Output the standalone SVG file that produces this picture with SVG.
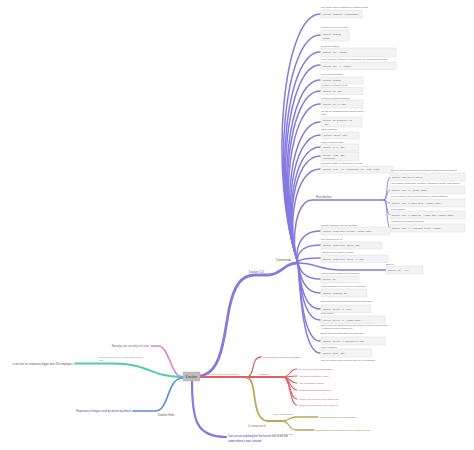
<svg xmlns="http://www.w3.org/2000/svg" width="474" height="450" viewBox="0 0 474 450">
<style>
.lbl{font-family:"Liberation Sans",Arial,sans-serif;font-size:2.5px;fill:#666}
.code{font-family:"Liberation Mono","Courier New",monospace;font-size:2.3px;fill:#555}
.box{fill:#f3f3f3;stroke:#d4d4d4;stroke-width:0.4}
.mid{font-family:"Liberation Sans",Arial,sans-serif;font-size:3px}
.leaf{font-family:"Liberation Sans",Arial,sans-serif;font-size:2.8px}
.red{font-family:"Liberation Sans",Arial,sans-serif;font-size:2.4px;fill:#d0524f}
.olv{font-family:"Liberation Sans",Arial,sans-serif;font-size:2.4px;fill:#8c7a34}
.p{fill:none;stroke:#857ae0;stroke-linecap:round}
.pc{fill:none;stroke:#857ae0;stroke-width:1.5;stroke-linecap:round}
.pr{fill:none;stroke:#857ae0;stroke-width:0.9;stroke-linecap:round}
.r{fill:none;stroke:#e06060;stroke-linecap:round}
.o{fill:none;stroke:#bba55a;stroke-linecap:round}
</style>
<rect width="474" height="450" fill="#fff"/>
<g id="connectors">
  <path d="M183 377 C170 377 170 346 158 346 L151 346" style="fill:none;stroke:#d98ad9;stroke-width:1.7;stroke-linecap:round"/>
  <path d="M75 363.5 L112 363.5 C150 363.5 150 377 183 377" style="fill:none;stroke:#4fcfa2;stroke-width:2;stroke-linecap:round"/>
  <path d="M183 378 C166 378 170 411 155 411 L133 411" style="fill:none;stroke:#5b8fd9;stroke-width:1.7;stroke-linecap:round"/>
  <path class="p" stroke-width="2.8" d="M199 376 C224 374 224 330 230 305 C234 288 240 275 255 275 L268 275 C282 275 283 263 298 263"/>
  <path class="p" stroke-width="2.2" d="M192 381 C192 420 196 437 226 437"/>
  <path class="pc" d="M298 263 C268.1 175.8 282.6 14 320 14"/>
  <path class="pc" d="M298 263 C270.6 183.2 284 35 320 35"/>
  <path class="pc" d="M298 263 C272.7 189.2 285.2 52 320 52"/>
  <path class="pc" d="M298 263 C274.2 193.7 286.1 65 320 65"/>
  <path class="pc" d="M298 263 C276 199 287.2 80 320 80"/>
  <path class="pc" d="M298 263 C277.4 202.8 288 91 320 91"/>
  <path class="pc" d="M298 263 C278.9 207.4 288.9 104 320 104"/>
  <path class="pc" d="M298 263 C281.1 213.7 290.1 122 320 122"/>
  <path class="pc" d="M298 263 C282.6 218.2 291 135 320 135"/>
  <path class="pc" d="M298 263 C284.1 222.4 291.9 147 320 147"/>
  <path class="pc" d="M298 263 C285.2 225.6 292.5 156 320 156"/>
  <path class="pc" d="M298 263 C286.7 230.1 293.4 169 320 169"/>
  <path class="pc" d="M298 263 C290.4 241 295.6 200 312 200 L384 200"/>
  <path class="pc" d="M298 263 C295.1 251.8 298.1 231 320 231"/>
  <path class="pc" d="M298 263 C296.4 256.7 298.9 245 320 245"/>
  <path class="pc" d="M298 263 C297.6 261.3 299.7 258 320 258"/>
  <path class="pc" d="M298 263 C315 263 320 270 340 270 L386 270"/>
  <path class="pc" d="M298 263 C300 268.6 302.3 279 320 279"/>
  <path class="pc" d="M298 263 C300 273.5 302.6 293 320 293"/>
  <path class="pc" d="M298 263 C300 279.1 302.9 309 320 309"/>
  <path class="pc" d="M298 263 C300 283 303.1 320 320 320"/>
  <path class="pc" d="M298 263 C300 290.3 303.6 341 320 341"/>
  <path class="pc" d="M298 263 C300 294.5 303.8 353 320 353"/>
  <path class="pr" d="M384 200 C388 200 386 177 390 177"/>
  <path class="pr" d="M384 200 C388 200 386 190 390 190"/>
  <path class="pr" d="M384 200 C388 200 386 203 390 203"/>
  <path class="pr" d="M384 200 C388 200 386 215 390 215"/>
  <path class="pr" d="M384 200 C388 200 386 228 390 228"/>
  <path class="r" stroke-width="2" d="M200 377 L283 377"/>
  <path class="r" stroke-width="1.3" d="M246 377 C256 377 250 357 261 357"/>
  <path class="r" stroke-width="1.1" d="M283 377 C291 377 289 369 297 369"/>
  <path class="r" stroke-width="1.1" d="M283 377 C291 377 289 376 297 376"/>
  <path class="r" stroke-width="1.1" d="M283 377 C291 377 289 383 297 383"/>
  <path class="r" stroke-width="1.1" d="M283 377 C291 377 289 390 297 390"/>
  <path class="r" stroke-width="1.1" d="M283 377 C291 377 289 399 297 399"/>
  <path class="r" stroke-width="1.1" d="M283 377 C291 377 289 405 297 405"/>
  <path class="o" stroke-width="1.8" d="M247 378 C258 378 250 421 268 421 L282 421"/>
  <path class="o" stroke-width="1.3" d="M282 421 C290 421 288 417 296 417 L318 417"/>
  <path class="o" stroke-width="1.3" d="M282 421 C290 421 288 430 296 430 L314 430"/>
</g>

<g id="docker">
  <rect x="183" y="372" width="17" height="9" fill="#bdbdbd" stroke="#a8a8a8" stroke-width="0.4"/>
  <text x="191.5" y="377.8" text-anchor="middle" style="font-family:'Liberation Sans',Arial,sans-serif;font-size:3.6px;fill:#333">Docker</text>
</g>
<g id="natively"><text class="leaf" x="149" y="347" text-anchor="end" fill="#8a4a8a">Natively can run only on Linux</text></g>
<g id="desktop">
  <text x="99" y="358" style="font-family:'Liberation Sans',Arial,sans-serif;font-size:1.7px;fill:#777">Docker Desktop is not a free tool (since licensing change in</text>
  <text x="99" y="361" style="font-family:'Liberation Sans',Arial,sans-serif;font-size:1.7px;fill:#777">2021)</text>
</g>
<g id="notfree"><text class="leaf" x="73" y="364.5" text-anchor="end" fill="#6b4b4b" style="font-size:2.6px">is not free for companies bigger than 250 employees</text></g>
<g id="hub">
  <text class="leaf" x="131" y="412" text-anchor="end" fill="#3d4f8f" style="font-size:2.6px">Repository of images used by docker by default</text>
  <text class="mid" x="158" y="415.5" fill="#555">Docker Hub</text>
</g>
<g id="anything">
  <text class="leaf" x="228" y="437" fill="#3f3a99">Can run on anything but the kernel has to be the</text>
  <text class="leaf" x="228" y="441.5" fill="#3f3a99">same where it was created</text>
</g>
<g id="cli"><text class="mid" x="249" y="272.5" fill="#555">Docker CLI</text></g>
<g id="commands"><text class="mid" x="276" y="261" fill="#555">Commands</text></g>

<g id="c1"><text class="lbl" x="321" y="8">See detail about container in JSON format</text><rect class="box" x="321" y="10" width="41" height="8"/><text class="code" x="323" y="14.8">docker inspect &lt;imagename&gt;</text></g>
<g id="c2"><text class="lbl" x="321" y="28">Remove all unused files</text><rect class="box" x="321" y="30" width="28" height="11"/><text class="code" x="323" y="34.5">docker system</text><text class="code" x="323" y="38.5">prune</text></g>
<g id="c3"><text class="lbl" x="321" y="47">Remove images</text><rect class="box" x="321" y="48" width="75" height="9"/><text class="code" x="323" y="53.3">docker rmi &lt;image&gt;</text></g>
<g id="c4"><text class="lbl" x="321" y="60">Force remove images for which there are running containers</text><rect class="box" x="321" y="62" width="75" height="7.5"/><text class="code" x="323" y="66.5">docker rmi -f &lt;image&gt;</text></g>
<g id="c5"><text class="lbl" x="321" y="75">List existing images</text><rect class="box" x="321" y="77" width="42" height="7"/><text class="code" x="323" y="81.3">docker images</text></g>
<g id="c6"><text class="lbl" x="321" y="86.3">Remove container by id</text><rect class="box" x="321" y="87.5" width="42" height="7"/><text class="code" x="323" y="91.8">docker rm &lt;ID&gt;</text></g>
<g id="c7"><text class="lbl" x="321" y="98.5">Remove running container</text><rect class="box" x="321" y="100" width="42" height="8"/><text class="code" x="323" y="104.8">docker rm -f &lt;ID&gt;</text></g>
<g id="c8"><text class="lbl" x="321" y="111.5">list IDs of containers and remove them</text><text class="lbl" x="321" y="114.8">Stop</text><rect class="box" x="321" y="117" width="41" height="10"/><text class="code" x="323" y="121">docker rm $(docker ps</text><text class="code" x="323" y="124.8">-aq)</text></g>
<g id="c9"><text class="lbl" x="321" y="130">Start container</text><rect class="box" x="322" y="132" width="37" height="7"/><text class="code" x="324" y="136.3">docker start &lt;ID&gt;</text></g>
<g id="c10"><text class="lbl" x="321" y="142.5">Force container stop</text><rect class="box" x="321" y="144" width="38" height="7"/><text class="code" x="323" y="148.3">docker kill &lt;ID&gt;</text></g>
<g id="c11"><rect class="box" x="321" y="152" width="38" height="9"/><text class="code" x="323" y="155.6">docker logs &lt;ID&gt;</text><text class="code" x="323" y="159.2">container</text></g>
<g id="c12"><text class="lbl" x="321" y="164">Run shell inside a interactive terminal</text><rect class="box" x="321" y="166" width="72" height="7"/><text class="code" x="323" y="170.3">docker exec -it &lt;container-id&gt; &lt;CMD&gt; bash</text></g>

<g id="rundocker"><text class="mid" x="316" y="197.5" fill="#555">Run docker</text></g>
<g id="r1"><text class="lbl" x="391" y="171.3">Create and run container and assign id and output to stdout</text><rect class="box" x="390" y="173" width="75" height="8"/><text class="code" x="392" y="177.8">docker run hello-world</text></g>
<g id="r2"><text class="lbl" x="391" y="184.3">Run without detaching container (detached mode) with default</text><rect class="box" x="390" y="186" width="75" height="8"/><text class="code" x="392" y="190.8">docker run -d &lt;image_name&gt;</text></g>
<g id="r3"><text class="lbl" x="391" y="197.3">Run container with port mapping (-p host:container)</text><rect class="box" x="390" y="199" width="75" height="8"/><text class="code" x="392" y="203.8">docker run -p 3000:3000 &lt;image_name&gt;</text></g>
<g id="r4"><text class="lbl" x="391" y="209.6">Port binding</text><rect class="box" x="390" y="211" width="75" height="8"/><text class="code" x="392" y="215.8">docker run -p 8080:80 --name web &lt;image_name&gt;</text></g>
<g id="r5"><text class="lbl" x="391" y="222.3">Passing environment variable</text><rect class="box" x="390" y="224" width="75" height="8"/><text class="code" x="392" y="228.8">docker run -e VARIABLE=value &lt;image&gt;</text></g>

<g id="c13"><text class="lbl" x="321" y="225.5">Create container but do not start</text><rect class="box" x="321" y="227" width="69" height="8"/><text class="code" x="323" y="231.8">docker container create &lt;image_name&gt;</text></g>
<g id="c14"><text class="lbl" x="321" y="239.5">Get container by id</text><rect class="box" x="321" y="242" width="61" height="7"/><text class="code" x="323" y="246.3">docker container start &lt;ID&gt;</text></g>
<g id="c15"><text class="lbl" x="321" y="253">Attach logs to console output</text><rect class="box" x="321" y="255" width="67" height="7.5"/><text class="code" x="323" y="259.5">docker container start -a &lt;ID&gt;</text></g>
<g id="execit"><text class="lbl" x="386" y="264.8">Exec it</text><rect class="box" x="386" y="266" width="37" height="8"/><text class="code" x="388" y="270.8">docker ps --all</text></g>
<g id="c16"><text class="lbl" x="321" y="273.5">List running containers (by default)</text><rect class="box" x="321" y="276" width="38" height="7"/><text class="code" x="323" y="280.3">docker ps</text></g>
<g id="c17"><text class="lbl" x="321" y="287">List containers used by docker compose</text><rect class="box" x="321" y="289" width="46" height="8"/><text class="code" x="323" y="293.8">docker compose ps</text></g>
<g id="c18"><text class="lbl" x="321" y="301.5">Build image (from dir with Dockerfile) and tag it</text><rect class="box" x="321" y="305" width="50" height="7.5"/><text class="code" x="323" y="309.5">docker build -t &lt;tag&gt; .</text></g>
<g id="c19"><text class="lbl" x="321" y="313.8">Build image</text><rect class="box" x="321" y="316" width="64" height="7.5"/><text class="code" x="323" y="320.5">docker build -t &lt;image_name&gt; .</text>
  <text class="lbl" x="321" y="326">Build process with Dockerfile to release, rebuild cached files</text><text class="lbl" x="321" y="329">  * cached layers in Dockerfile</text></g>
<g id="c20"><text class="lbl" x="321" y="334">Build with providing different Dockerfile</text><rect class="box" x="321" y="337" width="64" height="8"/><text class="code" x="323" y="341.8">docker build -f Dockerfile.dev .</text></g>
<g id="c21"><text class="lbl" x="321" y="347.5">Stop container</text><rect class="box" x="321" y="349" width="51" height="8"/><text class="code" x="323" y="353.8">docker stop &lt;ID&gt;</text><text class="lbl" x="321" y="360.5">Can be useful when need to stop or kill container</text></g>

<g id="vm"><text class="red" x="208" y="374.5">Is lighter than virtual machine</text></g>
<g id="vmhw"><text class="red" x="262" y="358" style="font-size:2.5px">Virtual machine virtualize hardware</text></g>
<g id="container"><text class="red" x="257" y="374.5">A Container</text></g>
<g id="k1"><text class="red" x="299" y="369.8">Do not require OS configuration</text></g>
<g id="k2"><text class="red" x="299" y="376.8">Virtualizes operating system</text></g>
<g id="k3"><text class="red" x="299" y="383.8">Has a container runtime</text></g>
<g id="k4"><text class="red" x="299" y="390.8">Shares host operating system</text></g>
<g id="k5"><text class="red" x="299" y="399.8">Usually run one app in the same time</text></g>
<g id="k6"><text class="red" x="299" y="405.8">Each docker container has unique ID</text></g>

<g id="composed"><text class="olv" x="248" y="427" style="font-size:2.6px">Is composed of</text></g>
<g id="ns"><text class="olv" x="273" y="414.5">Linux namespaces</text></g>
<g id="cg"><text class="olv" x="273" y="434.5" style="font-size:2.2px">Linux control groups</text></g>
<g id="nsd"><text class="olv" x="320" y="418">Describing different characteristics</text></g>
<g id="cgd"><text class="olv" x="316" y="431">Defines how much hardware each process can use</text></g>
</svg>
